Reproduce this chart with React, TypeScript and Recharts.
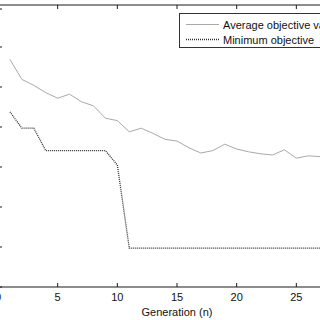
import React from 'react';
import { LineChart, Line, XAxis, YAxis, Legend } from 'recharts';

const generations = [1, 2, 3, 4, 5, 6, 7, 8, 9, 10, 11, 12, 13, 14, 15, 16, 17, 18, 19, 20, 21, 22, 23, 24, 25, 26, 27, 28, 29, 30];
const averageObjective = [5.69, 5.19, 5.04, 4.86, 4.72, 4.82, 4.63, 4.53, 4.22, 4.16, 3.88, 3.97, 3.84, 3.69, 3.65, 3.48, 3.35, 3.41, 3.57, 3.45, 3.38, 3.33, 3.3, 3.43, 3.22, 3.28, 3.26, 3.24, 3.2, 3.21];
const minimumObjective = [4.38, 3.97, 3.97, 3.41, 3.41, 3.41, 3.41, 3.41, 3.41, 3.05, 0.97, 0.97, 0.97, 0.97, 0.97, 0.97, 0.97, 0.97, 0.97, 0.97, 0.97, 0.97, 0.97, 0.97, 0.97, 0.97, 0.97, 0.97, 0.97, 0.97];
const xTicks = [0, 5, 10, 15, 20, 25, 30];
const yTicks = [0, 1, 2, 3, 4, 5, 6, 7];

const data = generations.map((g, i) => ({
  gen: g,
  avg: averageObjective[i],
  min: minimumObjective[i],
}));

const FONT = '"Liberation Sans", Arial, Helvetica, sans-serif';
const AXIS = '#1a1a1a';
const TICK_LEN = 4;

// MATLAB style: tick marks point into the plot box
const makeTick = (side: 'bottom' | 'top' | 'left' | 'right', label: boolean) => (props: any) => {
  const { x, y, payload } = props;
  let line;
  let text = null;
  if (side === 'bottom') {
    line = <line x1={x} y1={y} x2={x} y2={y - TICK_LEN} stroke={AXIS} />;
    if (label)
      text = (
        <text x={x} y={y + 14} textAnchor="middle" fontSize={11} fontFamily={FONT} fill="#111">
          {payload.value}
        </text>
      );
  } else if (side === 'top') {
    line = <line x1={x} y1={y} x2={x} y2={y + TICK_LEN} stroke={AXIS} />;
  } else if (side === 'left') {
    line = <line x1={x} y1={y} x2={x + TICK_LEN} y2={y} stroke={AXIS} />;
    if (label)
      text = (
        <text x={x - 5} y={y + 4} textAnchor="end" fontSize={11} fontFamily={FONT} fill="#111">
          {payload.value}
        </text>
      );
  } else {
    line = <line x1={x} y1={y} x2={x - TICK_LEN} y2={y} stroke={AXIS} />;
  }
  return (
    <g>
      {line}
      {text}
    </g>
  );
};

const LegendBox = ({ payload }: any) => (
  <div
    style={{
      border: '1px solid #333',
      background: '#fff',
      width: 180,
      height: 33,
      boxSizing: 'content-box',
      paddingTop: 0,
      fontFamily: FONT,
      fontSize: 11,
      color: '#111',
    }}
  >
    <div style={{ paddingTop: 3 }}>
      {(payload || []).map((entry: any) => (
        <div key={entry.value} style={{ display: 'flex', alignItems: 'center', height: 15 }}>
          <svg width={33} height={15} style={{ marginLeft: 6, marginRight: 4 }}>
            <line
              x1={0}
              y1={7.5}
              x2={33}
              y2={7.5}
              stroke={entry.color}
              strokeWidth={entry.payload?.strokeWidth || 1}
              strokeDasharray={entry.payload?.strokeDasharray}
            />
          </svg>
          <span style={{ whiteSpace: 'nowrap' }}>{entry.value}</span>
        </div>
      ))}
    </div>
  </div>
);

export default function App() {
  return (
    <div style={{ position: 'fixed', left: 0, top: 0, width: 320, height: 320, overflow: 'hidden', background: '#fff' }}>
      <div style={{ position: 'absolute', left: -50, top: 0 }}>
        <LineChart width={420} height={340} data={data} margin={{ top: 0, right: 14, bottom: 20, left: 0 }}>
          <XAxis
            xAxisId="bottom"
            type="number"
            dataKey="gen"
            domain={[0, 30]}
            ticks={xTicks}
            height={33}
            stroke={AXIS}
            tickSize={0}
            tickMargin={0}
            tick={makeTick('bottom', true)}
            label={{ value: 'Generation (n)', position: 'insideBottom', offset: 4, fontSize: 11, fontFamily: FONT, fill: '#111' }}
          />
          <XAxis
            xAxisId="top"
            orientation="top"
            type="number"
            dataKey="gen"
            domain={[0, 30]}
            ticks={xTicks}
            height={5}
            stroke={AXIS}
            tickSize={0}
            tickMargin={0}
            tick={makeTick('top', false)}
          />
          <YAxis
            yAxisId="left"
            type="number"
            domain={[0, 7.05]}
            ticks={yTicks}
            width={48}
            stroke={AXIS}
            tickSize={0}
            tickMargin={0}
            tick={makeTick('left', true)}
          />
          <YAxis
            yAxisId="right"
            orientation="right"
            type="number"
            domain={[0, 7.05]}
            ticks={yTicks}
            width={0}
            stroke={AXIS}
            tickSize={0}
            tickMargin={0}
            tick={makeTick('right', false)}
          />
          <Legend
            layout="horizontal"
            verticalAlign="middle"
            align="center"
            content={<LegendBox />}
            wrapperStyle={{ position: 'absolute', left: 229, top: 13, width: 'auto', height: 'auto' }}
          />
          <Line
            xAxisId="bottom"
            yAxisId="left"
            type="linear"
            dataKey="avg"
            name="Average objective value"
            stroke="#a9a9a9"
            strokeWidth={1}
            dot={false}
            isAnimationActive={false}
          />
          <Line
            xAxisId="bottom"
            yAxisId="left"
            type="linear"
            dataKey="min"
            name="Minimum objective"
            stroke="#2e2e2e"
            strokeWidth={1.3}
            strokeDasharray="1 1"
            dot={false}
            isAnimationActive={false}
          />
        </LineChart>
      </div>
    </div>
  );
}
